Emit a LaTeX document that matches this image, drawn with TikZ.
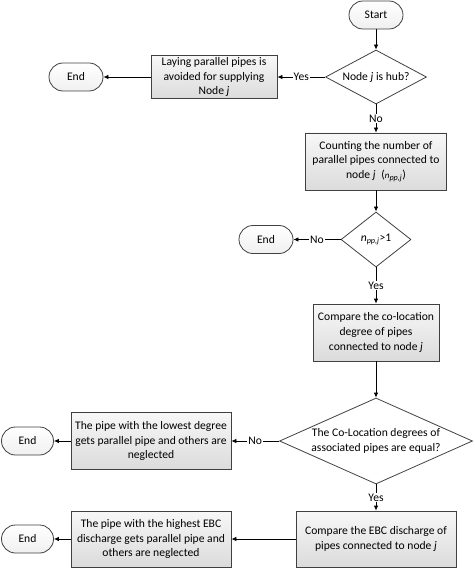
\documentclass[tikz,border=0pt]{standalone}
\usepackage{fontspec}
\setmainfont{Carlito}
\usetikzlibrary{arrows.meta, shapes.geometric, positioning}

\tikzset{
  term/.style={draw=black!75, rounded corners=14pt, minimum width=54pt, minimum height=28pt, top color=white, bottom color=gray!12, inner sep=0pt},
  proc/.style={draw=black!75, align=center, top color=gray!6, bottom color=gray!28, inner sep=1pt},
  decision/.style={draw=black!75, diamond, fill=white, align=center, inner sep=0pt},
  lbl/.style={fill=white, inner sep=1pt}
}

\begin{document}
\begin{tikzpicture}[node distance=3cm, on grid, font=\fontsize{11.6}{14.6}\selectfont, line width=0.8pt, >={Latex[length=5pt,width=4.5pt]}]
        \useasboundingbox (0,0) rectangle (474pt,-569pt);

        \node[term]                (t_start)   at (376pt,-15pt)                {Start};
        \node[decision, aspect=1.87, minimum width=101pt, minimum height=54pt] (d_hub) [below=62pt of t_start] {Node \textit{j} is hub?};
        \node[proc, minimum width=126pt, minimum height=43pt]     (b_avoid)   [left=162pt of d_hub]      {Laying parallel pipes is\\avoided for supplying\\Node \textit{j}};
        \node[term]                (t_end1)    [left=138pt of b_avoid]       {End};
        \node[proc, minimum width=141pt, minimum height=57pt]     (b_count)   [below=84.5pt of d_hub]    {Counting the number of\\parallel pipes connected to\\node \textit{j}\enspace(\textit{\small n}\textsubscript{\textit{pp,j}})};
        \node[decision, aspect=1.27, minimum width=70pt, minimum height=55pt]  (d_many)    [below=78pt of b_count]    {\textit{n}\textsubscript{\textit{pp,j}}>1};
        \node[term]                (t_end2)    [left=110pt of d_many]        {End};
        \node[proc, minimum width=126pt, minimum height=57pt]     (b_colo)    [below=93pt of d_many]     {Compare the co-location\\degree of pipes\\connected to node \textit{j}};
        \node[decision, aspect=2.3, minimum width=193pt, minimum height=86pt] (d_equal)   [below=108.5pt of b_colo]  {The Co-Location degrees of\\associated pipes are equal?};
        \node[proc, minimum width=160pt, minimum height=57pt]     (b_lowest)  [left=225pt of d_equal]    {The pipe with the lowest degree\\gets parallel pipe and others are\\neglected};
        \node[term, minimum width=52pt] (t_end3) [left=123.5pt of b_lowest]   {End};
        \node[proc, minimum width=160pt, minimum height=56pt]     (b_ebc)     [below=98pt of d_equal]    {Compare the EBC discharge of\\pipes connected to node \textit{j}};
        \node[proc, minimum width=160pt, minimum height=56pt]     (b_highest) [left=225pt of b_ebc]      {The pipe with the highest EBC\\discharge gets parallel pipe and\\others are neglected};
        \node[term, minimum width=52pt] (t_end4) [left=123.5pt of b_highest]  {End};

        \path[->]   (t_start) edge (d_hub)
        (d_hub) edge node[lbl] {Yes} (b_avoid)
        edge node[lbl] {No} (b_count)
        (b_avoid) edge (t_end1)
        (b_count) edge (d_many)
        (d_many) edge node[lbl] {No} (t_end2)
        edge node[lbl] {Yes} (b_colo)
        (b_colo) edge (d_equal)
        (d_equal) edge node[lbl] {No} (b_lowest)
        edge node[lbl] {Yes} (b_ebc)
        (b_lowest) edge (t_end3)
        (b_ebc) edge (b_highest)
        (b_highest) edge (t_end4)
        ;
    \end{tikzpicture}
\end{document}
